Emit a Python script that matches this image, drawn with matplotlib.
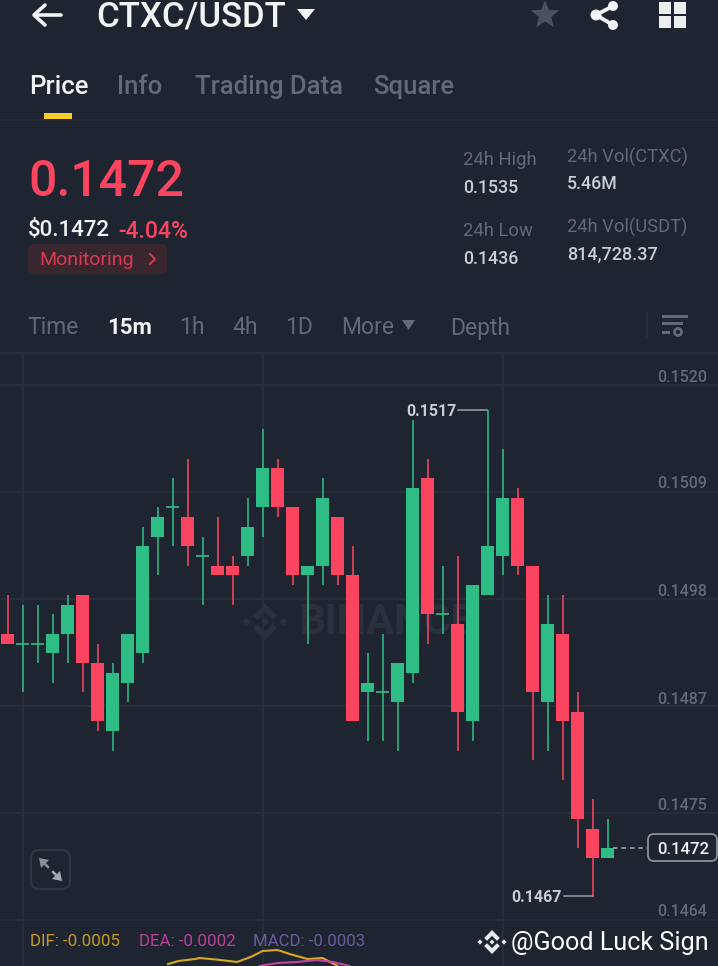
import numpy as np
import matplotlib
matplotlib.use('Agg')
import matplotlib.pyplot as plt
from matplotlib.patches import FancyBboxPatch, Polygon, Circle, Rectangle

plt.rcParams['font.family'] = ['Roboto', 'DejaVu Sans']

# candles, 15m, left to right
opens = [0.1494, 0.1493, 0.1493, 0.1492, 0.1494, 0.1498, 0.1491, 0.1484, 0.1489, 0.1492,
         0.1504, 0.1507, 0.1506, 0.1502, 0.1501, 0.1501, 0.1502, 0.1507, 0.1511, 0.1507,
         0.1500, 0.1501, 0.1506, 0.1500, 0.1488, 0.1488, 0.1487, 0.1490, 0.1510, 0.1496,
         0.1495, 0.1485, 0.1498, 0.1502, 0.1508, 0.1501, 0.1487, 0.1494, 0.1486, 0.1474, 0.1471]
closes = [0.1493, 0.1493, 0.1493, 0.1494, 0.1497, 0.1491, 0.1485, 0.1490, 0.1494, 0.1503,
          0.1506, 0.1507, 0.1503, 0.1502, 0.1500, 0.1500, 0.1505, 0.1511, 0.1507, 0.1500,
          0.1501, 0.1508, 0.1500, 0.1485, 0.1489, 0.1488, 0.1491, 0.1509, 0.1496, 0.1496,
          0.1486, 0.1499, 0.1503, 0.1508, 0.1501, 0.1488, 0.1495, 0.1485, 0.1475, 0.1471, 0.1472]
highs = [0.1498, 0.1497, 0.1497, 0.1496, 0.1498, 0.1498, 0.1493, 0.1491, 0.1494, 0.1505,
         0.1507, 0.1510, 0.1512, 0.1504, 0.1506, 0.1502, 0.1508, 0.1515, 0.1512, 0.1507,
         0.1501, 0.1510, 0.1506, 0.1503, 0.1492, 0.1494, 0.1491, 0.1516, 0.1512, 0.1501,
         0.1502, 0.1499, 0.1517, 0.1513, 0.1509, 0.1501, 0.1498, 0.1498, 0.1488, 0.1477, 0.1475]
lows = [0.1493, 0.1488, 0.1491, 0.1489, 0.1491, 0.1488, 0.1484, 0.1482, 0.1487, 0.1491,
        0.1500, 0.1503, 0.1501, 0.1497, 0.1500, 0.1497, 0.1501, 0.1504, 0.1506, 0.1499,
        0.1493, 0.1499, 0.1499, 0.1485, 0.1483, 0.1483, 0.1482, 0.1489, 0.1493, 0.1494,
        0.1482, 0.1483, 0.1498, 0.1500, 0.1500, 0.1481, 0.1482, 0.1479, 0.1472, 0.1467, 0.1471]

tick_values = [0.15196, 0.15086, 0.14976, 0.14866, 0.14756, 0.14646]
tick_labels = ['0.1520', '0.1509', '0.1498', '0.1487', '0.1475', '0.1464']
vgrid_idx = [1, 17, 33]

# macd pane, only the top of it is visible
dif_x = [10.7, 11.4, 12.5, 12.8, 14.2, 15.3, 16.2, 17, 18, 18.8, 20, 21, 21.5, 22]
dif_y = [0.00004, 0.0001, 0.00014, 0.00016, 0.00012, 0.00008, 0.00018, 0.0003, 0.00032,
         0.00024, 0.00014, 0.00016, 0.00008, 0.0]
dea_x = [16.8, 18, 19.3, 20.6, 21.7, 22.8]
dea_y = [0.0, 0.00006, 0.00008, 0.00012, 0.00008, 0.0]

BG = '#1e2530'
GRID = '#2a303b'
RED = '#fb4560'
GREEN = '#2ebd85'
GREY = '#626a77'
SOFT = '#c9ced4'
WHITE = '#f2f3f5'

W, H = 718, 966
fig = plt.figure(figsize=(W / 100, H / 100), dpi=100, facecolor=BG)


def px_axes(left, top, right, bottom, **kw):
    return fig.add_axes([left / W, 1 - bottom / H, (right - left) / W, (bottom - top) / H], **kw)


# price axes
ax = px_axes(0, 353, W, 966, facecolor='none')
ax.set_xlim(-7.6 / 15, (W - 7.6) / 15)
ax.set_ylim(0.1517 - 556 / 97333, 0.1517 + 57 / 97333)
ax.axis('off')
for t in tick_values:
    ax.axhline(t, color=GRID, lw=1.3, zorder=1)
for v in vgrid_idx:
    ax.axvline(v, color=GRID, lw=1.3, zorder=1)

for i, (o, c, h, l) in enumerate(zip(opens, closes, highs, lows)):
    col = GREEN if c >= o else RED
    ax.vlines(i, l, h, color=col, lw=1.25, zorder=4, alpha=0.9)
    if o == c:
        ax.hlines(o, i - 0.45, i + 0.45, color=col, lw=1.2, zorder=4)
    else:
        ax.bar(i, abs(c - o), bottom=min(o, c), width=0.89, color=col, zorder=5)

# macd
ax2 = px_axes(0, 945, W, 966, facecolor='none')
ax2.set_xlim(-7.6 / 15, (W - 7.6) / 15)
ax2.set_ylim(0, 0.00042)
ax2.axis('off')
ax2.plot(dif_x, dif_y, color='#d9a81e', lw=1.5)
ax2.plot(dea_x, dea_y, color='#c243a8', lw=1.5)

# everything else is placed in screen pixels
ov = fig.add_axes([0, 0, 1, 1], facecolor='none')
ov.set_xlim(0, W)
ov.set_ylim(H, 0)
ov.axis('off')

# watermark goes under the candles
wm = fig.add_axes([0, 0, 1, 1], facecolor='none', zorder=-1)
wm.set_xlim(0, W)
wm.set_ylim(H, 0)
wm.axis('off')


def label(x, y, s, color=GREY, size=13.5, weight='normal', ha='left', **kw):
    ov.text(x - 1, y + 2, s, color=color, fontsize=size, fontweight=weight, ha=ha, va='center', **kw)


def logo(target, cx, cy, s, color):
    # binance diamond: centre, sides and two chevrons
    d = s * 0.17
    for dx in (0, -s * 0.8, s * 0.8):
        target.add_patch(Polygon([(cx + dx - d, cy), (cx + dx, cy - d), (cx + dx + d, cy),
                                  (cx + dx, cy + d)], color=color, lw=0))
    for sgn in (-1, 1):
        target.add_patch(Polygon([(cx - s * 0.52, cy + sgn * s * 0.27), (cx, cy + sgn * s * 0.8),
                                  (cx + s * 0.52, cy + sgn * s * 0.27), (cx + s * 0.33, cy + sgn * s * 0.08),
                                  (cx, cy + sgn * s * 0.41), (cx - s * 0.33, cy + sgn * s * 0.08)],
                                 color=color, lw=0))


logo(wm, 265, 622, 23, '#2a313c')
wm.text(298, 622, 'BINANCE', color='#2a313c', fontsize=30, fontweight='bold', ha='left', va='center')

# header
ov.plot([35, 61], [15, 15], color=WHITE, lw=2.6, solid_capstyle='round')
ov.plot([45, 34, 45], [5, 15, 25], color=WHITE, lw=2.6, solid_capstyle='round', solid_joinstyle='round')
label(97, 15, 'CTXC/USDT', WHITE, 25, 'medium')
ov.add_patch(Polygon([(297, 9), (315, 9), (306, 20)], color=WHITE, lw=0))

ang = np.deg2rad(np.arange(10) * 36 - 90)
rad = np.where(np.arange(10) % 2 == 0, 15, 6.5)
ov.add_patch(Polygon(np.c_[545 + rad * np.cos(ang), 15 + rad * np.sin(ang)], color='#4a5060', lw=0))

ov.plot([613, 596, 613], [6, 15, 25], color=WHITE, lw=2.8)
for cx, cy, r in [(613, 6, 5), (596, 15, 5.5), (613, 25, 5)]:
    ov.add_patch(Circle((cx, cy), r, color=WHITE, lw=0))
for cx, cy in [(659, 2), (674, 2), (659, 16), (674, 16)]:
    ov.add_patch(Rectangle((cx, cy), 12, 12, color='#eceef1', lw=0))

# tabs
label(30, 85, 'Price', WHITE, 18.5, 'medium')
label(118, 85, 'Info', GREY, 18.5, 'medium')
label(196, 85, 'Trading Data', GREY, 18.5, 'medium')
label(374, 85, 'Square', GREY, 18.5, 'medium')
ov.add_patch(Rectangle((44, 113), 28, 5.5, color='#f5cb30', lw=0))
ov.plot([0, W], [120, 120], color=GRID, lw=1.2)

# price block
label(29, 180, '0.1472', RED, 36, 'medium')
label(29, 229, '$0.1472', WHITE, 16, 'medium')
label(119, 229, '-4.04%', RED, 16.5, 'medium')
ov.add_patch(FancyBboxPatch((32, 248), 131, 22, boxstyle='round,pad=4,rounding_size=6',
                            fc='#3a262f', ec='none'))
label(40, 258, 'Monitoring', '#d93a50', 14)
ov.plot([150, 155, 150], [254, 259, 264], color='#d93a50', lw=1.4)

label(464, 158, '24h High', GREY, 13.3)
label(464, 186, '0.1535', SOFT, 12.8, 'medium')
label(464, 229, '24h Low', GREY, 13.3)
label(464, 257, '0.1436', SOFT, 12.8, 'medium')
label(568, 155, '24h Vol(CTXC)', GREY, 13.2)
label(568, 182, '5.46M', SOFT, 12.8, 'medium')
label(568, 225, '24h Vol(USDT)', GREY, 13.2)
label(568, 253, '814,728.37', SOFT, 13, 'medium')

# interval bar
label(28, 326, 'Time', GREY, 16.5)
label(108, 326, '15m', WHITE, 16, 'bold')
label(180, 326, '1h', GREY, 16.5)
label(233, 326, '4h', GREY, 16.5)
label(286, 326, '1D', GREY, 16.5)
label(342, 326, 'More', GREY, 16.5)
ov.add_patch(Polygon([(402, 320), (415, 320), (408.5, 330)], color=GREY, lw=0))
label(451, 326, 'Depth', GREY, 16.5)
ov.plot([647, 647], [313, 337], color=GRID, lw=1.2)
ov.plot([663, 686], [316, 316], color=GREY, lw=2.2)
ov.plot([663, 681], [323, 323], color=GREY, lw=2.2)
ov.plot([663, 668], [332, 332], color=GREY, lw=2.2)
ov.add_patch(Circle((678, 332), 3.5, fc='none', ec=GREY, lw=2))
ov.plot([0, W], [353, 353], color=GRID, lw=1.2)

# axis labels
for y, s in zip([376, 482, 590, 697, 803, 910], tick_labels):
    label(658, y, s, GREY, 11.5, 'medium')

# hi / lo markers
label(407, 409, '0.1517', SOFT, 11.5, 'bold')
ov.plot([458, 487], [410, 410], color='#9aa0a8', lw=1.1)
label(512, 895, '0.1467', SOFT, 11.5, 'bold')
ov.plot([564, 592], [896, 896], color='#9aa0a8', lw=1.1)

# last price
ov.plot([613, 648], [848, 848], color='#aab0b6', lw=1.1, ls=(0, (3, 2.5)))
ov.add_patch(FancyBboxPatch((652, 838), 61, 19, boxstyle='round,pad=4,rounding_size=6',
                            fc=BG, ec='#8b9099', lw=1.3, zorder=6))
ov.text(683, 849, '0.1472', color=WHITE, fontsize=12, fontweight='medium', ha='center', va='center', zorder=7)

# expand button
ov.add_patch(FancyBboxPatch((36, 855), 29, 29, boxstyle='round,pad=5,rounding_size=8',
                            fc='none', ec='#2f3641', lw=1.6))
ov.plot([42, 48], [861, 867], color='#8b9099', lw=1.8)
ov.plot([53, 59], [872, 878], color='#a5a9b0', lw=1.8)
ov.add_patch(Polygon([(39, 858), (49, 860), (41, 868)], color='#8b9099', lw=0))
ov.add_patch(Polygon([(62, 881), (52, 879), (60, 871)], color='#a5a9b0', lw=0))

# macd legend
label(31, 939, 'DIF: -0.0005', '#c99a20', 12.2)
label(140, 939, 'DEA: -0.0002', '#b8409b', 12.2)
label(254, 939, 'MACD: -0.0003', '#6d5a9e', 12.1)

# repost mark
logo(ov, 492, 942, 15, '#e6e8ea')
label(512, 941, '@Good Luck Sign', '#ffffff', 18.1)

fig.savefig('out.png', dpi=100, facecolor=BG)
